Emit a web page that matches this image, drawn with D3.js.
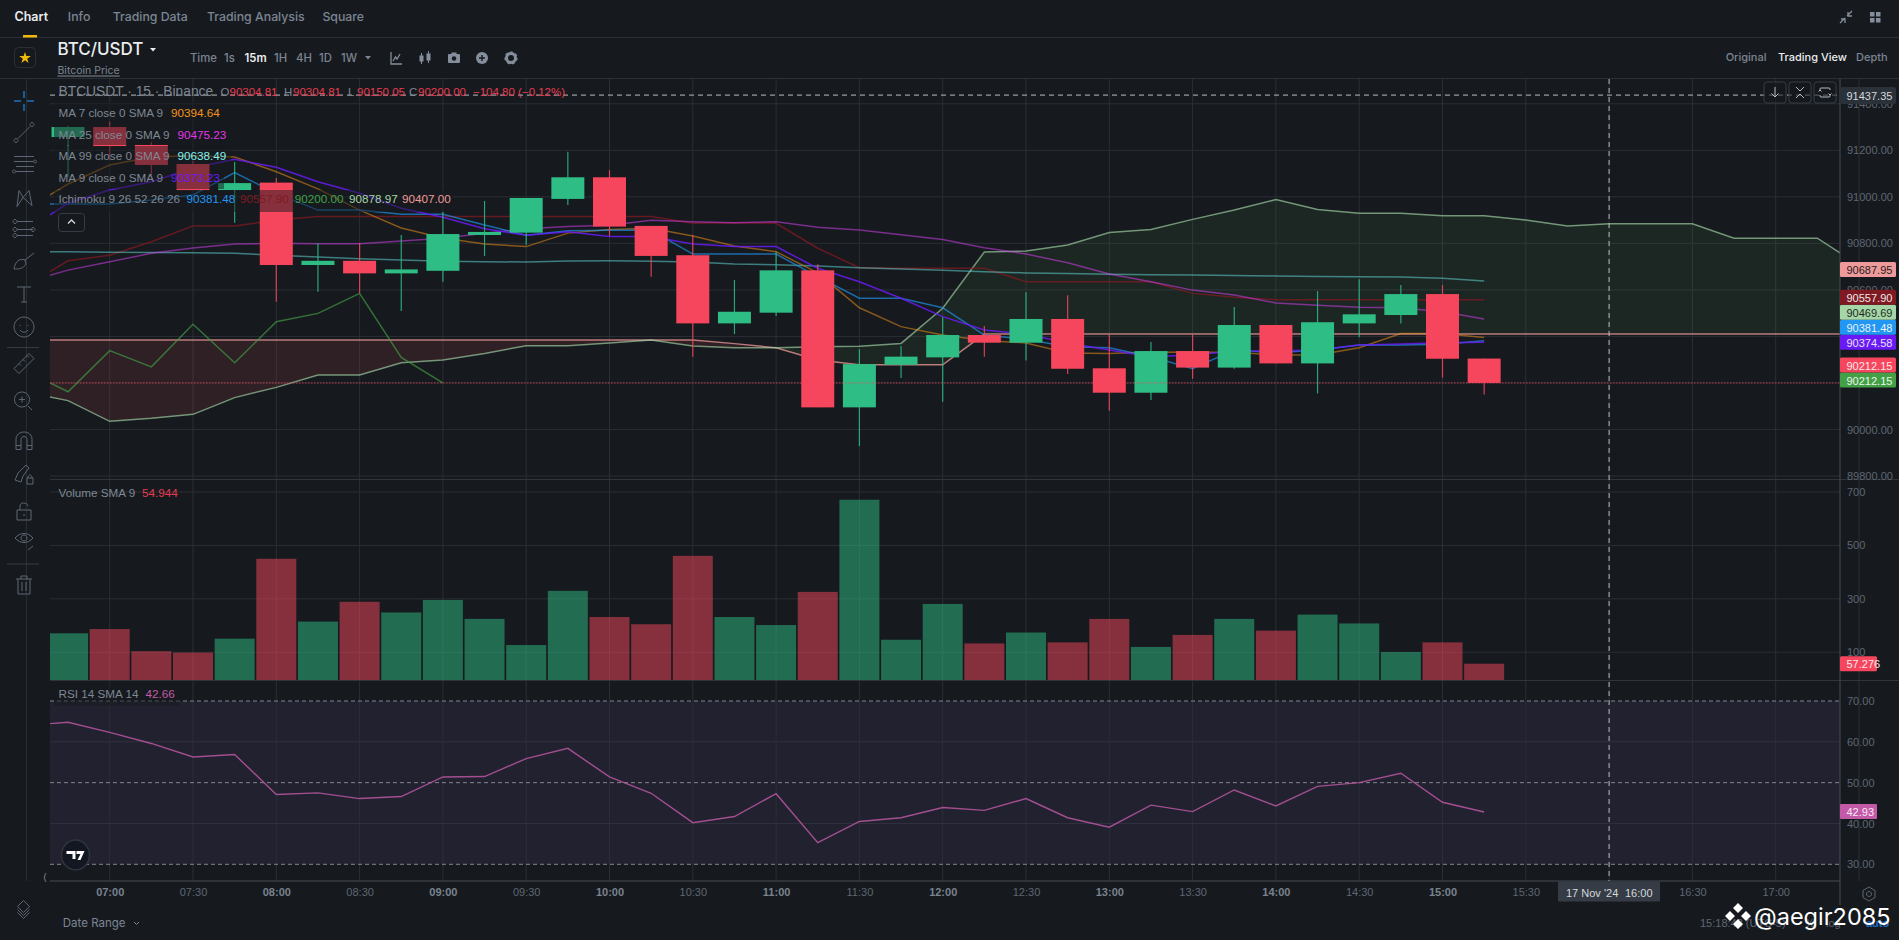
<!DOCTYPE html>
<html>
<head>
<meta charset="utf-8">
<title>BTC/USDT</title>
<script src="https://cdn.jsdelivr.net/npm/d3@7/dist/d3.min.js"></script>
<style>
  html, body { margin: 0; padding: 0; background: #161a1e; overflow: hidden; }
  text { font-family: "Liberation Sans", Arial, sans-serif; }
  .ui text, text.ui { font-family: Inter, Roboto, sans-serif; }
</style>
</head>
<body>
<svg id="chart" width="1899" height="940"></svg>
<script>
// 15 minute slots, 06:30 is just off the left edge
var times = ["06:30","06:45","07:00","07:15","07:30","07:45","08:00","08:15","08:30","08:45","09:00","09:15","09:30","09:45",
  "10:00","10:15","10:30","10:45","11:00","11:15","11:30","11:45","12:00","12:15","12:30","12:45","13:00","13:15","13:30","13:45",
  "14:00","14:15","14:30","14:45","15:00","15:15","15:30","15:45","16:00","16:15","16:30","16:45","17:00","17:15","17:30"];

// candles, 06:45 to 15:15
var opens  = [91257,91300,91223,91141,91029,91061,90707,90725,90671,90682,90836,90846,90991,91084,90875,90749,90456,90502,90684,90095,90278,90310,90406,90373,90475,90263,90158,90337,90266,90449,90284,90456,90492,90582,90304.81];
var highs  = [91305,91326,91236,91155,91150,91081,90800,90802,90836,90936,90982,90995,91194,91115,90875,90836,90643,90764,90710,90345,90359,90482,90445,90590,90577,90406,90376,90410,90526,90449,90595,90646,90621,90621,90304.81];
var lows   = [91085,91158,91094,91029,90889,90549,90592,90587,90509,90635,90746,90793,90965,90832,90657,90313,90410,90488,90095,89929,90221,90119,90313,90296,90238,90081,90127,90218,90261,90284,90155,90396,90455,90223,90150.05];
var closes = [91300,91218,91137,91029,91059,90707,90725,90671,90688,90840,90849,90995,91084,90872,90746,90456,90506,90684,90095,90281,90313,90406,90373,90475,90261,90158,90337,90266,90449,90284,90461,90495,90582,90304,90200];
var volumes = [171,187,104,99,151,450,215,289,249,296,225,127,330,232,205,461,232,202,326,671,147,281,133,174,137,225,120,165,225,181,241,208,101,137,57.276];

// moving averages, 06:30 to 15:15
var ma7  = [90948,91055,91137,91171,91177,91171,91108,91034,90943,90866,90823,90797,90786,90844,90860,90865,90832,90789,90764,90673,90523,90442,90406,90382,90372,90329,90327,90333,90332,90332,90320,90320,90351,90412,90412,90395];
var ma9  = [90857,90973,91029,91065,91124,91161,91127,91065,91015,90951,90912,90863,90835,90850,90829,90829,90797,90786,90786,90693,90635,90564,90485,90428,90410,90372,90342,90313,90320,90337,90337,90342,90363,90367,90373,90375];
var ma25 = [90634,90685,90721,90757,90780,90797,90800,90798,90798,90810,90822,90843,90863,90872,90878,90899,90893,90889,90893,90869,90857,90837,90817,90781,90754,90717,90668,90635,90599,90578,90544,90534,90525,90523,90506,90475];
var ma99 = [90764,90764,90762,90761,90760,90757,90749,90741,90734,90728,90723,90721,90720,90724,90725,90723,90720,90711,90708,90703,90695,90690,90684,90678,90673,90670,90667,90665,90664,90662,90660,90658,90657,90655,90650,90638];

// ichimoku
var conversion = [90969,90969,90969,90986,91008,91104,91015,90943,90943,90925,90925,90879,90835,90854,90856,90856,90754,90754,90754,90657,90564,90564,90523,90406,90388,90356,90351,90313,90261,90342,90330,90342,90363,90363,90366,90381];
var baseLine   = [90617,90725,90749,90807,90875,90875,90900,90915,90915,90915,90915,90915,90915,90915,90915,90915,90886,90889,90886,90779,90695,90693,90693,90693,90635,90635,90635,90635,90585,90568,90558,90558,90558,90558,90558,90558];
var lagging    = [90251,90162,90339,90269,90452,90287,90463,90499,90585,90310,90200];
var spanA = [90161,90124,90035,90048,90065,90137,90181,90234,90234,90287,90299,90327,90360,90360,90372,90385,90359,90351,90351,90356,90358,90370,90521,90763,90767,90793,90847,90860,90903,90943,90988,90946,90929,90929,90919,90919,90900,90875,90884,90884,90884,90822,90822,90822,90707];
var spanB = [90385,90385,90385,90385,90385,90385,90385,90385,90385,90385,90385,90385,90385,90385,90385,90385,90385,90369,90351,90299,90278,90278,90278,90410,90410,90410,90410,90410,90410,90410,90410,90410,90410,90410,90410,90410,90410,90410,90410,90410,90410,90410,90410,90410,90410];

var rsi = [64.0,64.8,62.3,59.6,56.3,56.9,47.1,47.5,46.1,46.6,51.4,51.5,55.9,58.4,51.4,47.4,40.2,41.7,47.3,35.3,40.5,41.4,43.9,43.2,46.1,41.4,39.1,44.5,42.9,48.2,44.3,49.1,50.0,52.3,45.2,42.8];

var priceTicks = [89800,90000,90200,90400,90600,90800,91000,91200,91400];
var volumeTicks = [100,300,500,700];
var rsiTicks = [30,40,50,60,70];
var rsiDashed = [30,50,70];
var priceLabels = [
  [90687.95, "#ef9a9a", "#2a1c1e"],
  [90557.90, "#801922", "#e8e8e8"],
  [90469.69, "#a5d6a7", "#1c2a1e"],
  [90381.48, "#2196f3", "#e8f2fb"],
  [90374.58, "#6a1bf5", "#e8e0fb"],
  [90212.15, "#f6465d", "#fde8ea"],
  [90212.15, "#43a047", "#e8f5e9"]
];

var W = 1899, H = 940;
var plotLeft = 50, plotRight = 1840;
var priceTop = 79, priceBottom = 480, volBottom = 680, rsiBottom = 881;
var upColor = "#2ebd85", downColor = "#f6465d", gridColor = "#2a2e35";
var bg = "#161a1e";

var parseTime = d3.timeParse("%H:%M");
var t = times.map(parseTime);

var x = d3.scaleTime().domain([parseTime("07:00"), parseTime("17:00")]).range([109.7, 1775.7]);
var y = d3.scaleLinear().domain([89800, 91200]).range([476, 150.3]);
var yVol = d3.scaleLinear().domain([0, 700]).range([679, 492]);
var yRsi = d3.scaleLinear().domain([30, 70]).range([864.3, 701]);

var svg = d3.select("#chart");
var defs = svg.append("defs");

function clip(id, x0, y0, x1, y1) {
  defs.append("clipPath").attr("id", id).append("rect")
    .attr("x", x0).attr("y", y0).attr("width", x1 - x0).attr("height", y1 - y0);
}
clip("clipPrice", plotLeft, priceTop, plotRight, priceBottom);
clip("clipVol", plotLeft, priceBottom, plotRight, volBottom);
clip("clipRsi", plotLeft, volBottom, plotRight, rsiBottom);

function label(g, px, py, str, size, fill, weight, anchor) {
  return g.append("text").attr("x", px).attr("y", py).text(str)
    .attr("font-size", size).attr("fill", fill)
    .attr("font-weight", weight || 400)
    .attr("text-anchor", anchor || "start")
    .attr("dominant-baseline", "central");
}

function hline(g, x1, x2, py, color, dash) {
  return g.append("line").attr("x1", x1).attr("x2", x2).attr("y1", py).attr("y2", py)
    .attr("stroke", color).attr("stroke-dasharray", dash || null);
}

// rsi band goes under the grid
svg.append("rect").attr("x", plotLeft).attr("y", yRsi(70)).attr("width", plotRight - plotLeft)
  .attr("height", yRsi(30) - yRsi(70)).attr("fill", "#212130");

// grid
var grid = svg.append("g");
var halfHours = d3.timeMinute.every(30).range(parseTime("06:30"), parseTime("17:31"));
[[priceTop, priceBottom], [priceBottom, volBottom], [volBottom, rsiBottom]].forEach(function (p) {
  grid.selectAll(null).data(halfHours).enter().append("line")
    .attr("x1", function (d) { return x(d); }).attr("x2", function (d) { return x(d); })
    .attr("y1", p[0]).attr("y2", p[1]).attr("stroke", gridColor);
});
grid.selectAll(null).data(priceTicks).enter().append("line")
  .attr("x1", plotLeft).attr("x2", plotRight)
  .attr("y1", function (d) { return y(d); }).attr("y2", function (d) { return y(d); }).attr("stroke", gridColor);
grid.selectAll(null).data(volumeTicks).enter().append("line")
  .attr("x1", plotLeft).attr("x2", plotRight)
  .attr("y1", function (d) { return yVol(d); }).attr("y2", function (d) { return yVol(d); }).attr("stroke", gridColor);
grid.selectAll(null).data(rsiTicks.filter(function (d) { return rsiDashed.indexOf(d) < 0; })).enter().append("line")
  .attr("x1", plotLeft).attr("x2", plotRight)
  .attr("y1", function (d) { return yRsi(d); }).attr("y2", function (d) { return yRsi(d); }).attr("stroke", "#30303f");

// ichimoku cloud, split in two at span B
var cloudData = t.map(function (d, i) { return { t: d, a: spanA[i], b: spanB[i] }; });
var cloud = d3.area().x(function (d) { return x(d.t); })
  .y0(function (d) { return y(d.a); }).y1(function (d) { return y(d.b); });
defs.append("clipPath").attr("id", "aboveB").append("path")
  .attr("d", d3.area().x(function (d) { return x(d.t); }).y0(priceTop).y1(function (d) { return y(d.b); })(cloudData));
defs.append("clipPath").attr("id", "belowB").append("path")
  .attr("d", d3.area().x(function (d) { return x(d.t); }).y0(priceBottom).y1(function (d) { return y(d.b); })(cloudData));

var pricePane = svg.append("g").attr("clip-path", "url(#clipPrice)");
pricePane.append("g").attr("clip-path", "url(#aboveB)").append("path")
  .attr("d", cloud(cloudData)).attr("fill", "#6fcf70").attr("fill-opacity", 0.07);
pricePane.append("g").attr("clip-path", "url(#belowB)").append("path")
  .attr("d", cloud(cloudData)).attr("fill", "#f7525f").attr("fill-opacity", 0.11);

// indicator lines
var series = [
  [spanB, "#ef9a9a", 0.75],
  [spanA, "#a5d6a7", 0.65],
  [lagging, "#43a047", 0.65],
  [baseLine, "#801922", 0.75],
  [ma99, "#66e0e0", 0.5],
  [ma25, "#e040fb", 0.5],
  [ma7, "#f7931a", 0.5],
  [conversion, "#2196f3", 0.65],
  [ma9, "#6a1bf5", 0.85]
];
var lineGen = d3.line().x(function (d) { return x(d[0]); }).y(function (d) { return y(d[1]); });
series.forEach(function (s) {
  pricePane.append("path")
    .attr("d", lineGen(s[0].map(function (v, i) { return [t[i], v]; })))
    .attr("fill", "none").attr("stroke", s[1]).attr("stroke-opacity", s[2]).attr("stroke-width", 1.5);
});

// candles
var candleTimes = t.slice(1, 36);
var candles = candleTimes.map(function (d, i) {
  return { t: d, o: opens[i], h: highs[i], l: lows[i], c: closes[i], v: volumes[i], up: closes[i] >= opens[i] };
});
var candleWidth = 33, volWidth = 40;
pricePane.selectAll(".wick").data(candles).enter().append("line").attr("class", "wick")
  .attr("x1", function (d) { return x(d.t); }).attr("x2", function (d) { return x(d.t); })
  .attr("y1", function (d) { return y(d.h); }).attr("y2", function (d) { return y(d.l); })
  .attr("stroke", function (d) { return d.up ? upColor : downColor; })
  .attr("stroke-width", 1.2).attr("stroke-opacity", 0.85);
pricePane.selectAll(".body").data(candles).enter().append("rect").attr("class", "body")
  .attr("x", function (d) { return x(d.t) - candleWidth / 2; })
  .attr("width", candleWidth)
  .attr("y", function (d) { return y(Math.max(d.o, d.c)); })
  .attr("height", function (d) { return Math.max(1, Math.abs(y(d.o) - y(d.c))); })
  .attr("fill", function (d) { return d.up ? upColor : downColor; });

// last price dotted line
hline(svg, plotLeft, plotRight, y(closes[closes.length - 1]), "#f6465d", "1.5 1.5").attr("stroke-opacity", 0.75);

// volume
svg.append("g").attr("clip-path", "url(#clipVol)").selectAll("rect").data(candles).enter().append("rect")
  .attr("x", function (d) { return x(d.t) - volWidth / 2; })
  .attr("width", volWidth)
  .attr("y", function (d) { return yVol(d.v); })
  .attr("height", function (d) { return volBottom - yVol(d.v); })
  .attr("fill", function (d) { return d.up ? upColor : downColor; })
  .attr("fill-opacity", 0.5);

// rsi
var rsiPane = svg.append("g").attr("clip-path", "url(#clipRsi)");
rsiDashed.forEach(function (d) {
  hline(rsiPane, plotLeft, plotRight, yRsi(d), "#85858f", "4 3");
});
rsiPane.append("path")
  .attr("d", d3.line().x(function (d, i) { return x(t[i]); }).y(function (d) { return yRsi(d); })(rsi))
  .attr("fill", "none").attr("stroke", "#c35aa8").attr("stroke-opacity", 0.8).attr("stroke-width", 1.4);

// panel frames
hline(svg, 0, W, 37.5, "#2b3036");
hline(svg, 0, W, 78.5, "#2b3036");
hline(svg, plotLeft, W, priceBottom - 0.5, "#30353c");
hline(svg, plotLeft, W, volBottom + 0.5, "#30353c");
hline(svg, plotLeft, plotRight, rsiBottom, "#474d57");
svg.append("line").attr("x1", plotRight).attr("x2", plotRight).attr("y1", 79).attr("y2", 905).attr("stroke", "#474d57");

// axes
function styleAxis(g, size) {
  g.select(".domain").remove();
  g.selectAll("line").remove();
  g.selectAll("text").attr("fill", "#5e6673").attr("font-size", size || 11).attr("font-family", null);
}
var axisFmt = d3.format(".2f");
svg.append("g").attr("transform", "translate(1847,0)")
  .call(d3.axisRight(y).tickValues(priceTicks).tickSize(0).tickPadding(0).tickFormat(axisFmt)).call(styleAxis);
svg.append("g").attr("transform", "translate(1847,0)")
  .call(d3.axisRight(yVol).tickValues(volumeTicks).tickSize(0).tickPadding(0)).call(styleAxis);
svg.append("g").attr("transform", "translate(1847,0)")
  .call(d3.axisRight(yRsi).tickValues(rsiTicks).tickSize(0).tickPadding(0).tickFormat(axisFmt)).call(styleAxis);
var timeAxis = svg.append("g").attr("transform", "translate(0,888.5)")
  .call(d3.axisBottom(x).tickValues(halfHours.filter(function (d) { return d >= parseTime("07:00") && d <= parseTime("17:00"); }))
    .tickSize(0).tickPadding(0).tickFormat(d3.timeFormat("%H:%M"))).call(styleAxis);
timeAxis.selectAll("text").attr("font-weight", function (d) {
  return d.getMinutes() === 0 && d.getHours() < 16 ? 700 : 400;
}).attr("fill", function (d) {
  return d.getMinutes() === 0 && d.getHours() < 16 ? "#7a828e" : "#5e6673";
});

// price labels stack upward from the lowest one, 15px apart
var tagX = plotRight, tagW = 56, tagH = 15;
var tagY = null;
var tags = svg.append("g");
priceLabels.slice().reverse().forEach(function (p) {
  var py = y(p[0]);
  if (tagY !== null && py > tagY - tagH) py = tagY - tagH;
  tagY = py;
  tags.append("rect").attr("x", tagX).attr("y", py - tagH / 2).attr("width", tagW).attr("height", tagH).attr("rx", 1.5).attr("fill", p[1]);
  label(tags, 1846.5, py + 0.5, axisFmt(p[0]), 11, p[2]);
});
var lastVol = volumes[volumes.length - 1];
tags.append("rect").attr("x", tagX).attr("y", yVol(lastVol) - 7.5).attr("width", 37).attr("height", 15).attr("rx", 1.5).attr("fill", downColor);
label(tags, 1846.5, yVol(lastVol) + 0.5, lastVol.toFixed(3), 11, "#fde8ea");
var lastRsi = 42.93;
tags.append("rect").attr("x", tagX).attr("y", yRsi(lastRsi) - 7.5).attr("width", 37).attr("height", 15).attr("rx", 1).attr("fill", "#c35aa8");
label(tags, 1846.5, yRsi(lastRsi) + 0.5, lastRsi.toFixed(2), 11, "#f9e8f4");

// crosshair
var crossTime = parseTime("16:00"), crossPrice = 91437.35;
svg.append("line").attr("x1", x(crossTime)).attr("x2", x(crossTime)).attr("y1", priceTop).attr("y2", rsiBottom)
  .attr("stroke", "#b8bcc2").attr("stroke-dasharray", "5 4");
hline(svg, plotLeft, plotRight, y(crossPrice), "#b8bcc2", "5 4");
tags.append("rect").attr("x", tagX).attr("y", y(crossPrice) - 8).attr("width", 56).attr("height", 17).attr("rx", 2).attr("fill", "#2b3139");
label(tags, 1846.5, y(crossPrice) + 0.5, axisFmt(crossPrice), 11, "#d5d8dc");
svg.append("rect").attr("x", 1558).attr("y", 881.5).attr("width", 102).attr("height", 20).attr("fill", "#363c45").attr("rx", 1);
label(svg, 1566, 892.5, "17 Nov '24", 11, "#d5d8dc");
label(svg, 1625, 892.5, "16:00", 11, "#d5d8dc");

// chart buttons over the crosshair line
[1764, 1789, 1814].forEach(function (bx, i) {
  svg.append("rect").attr("x", bx).attr("y", 82).attr("width", 22).attr("height", 21).attr("rx", 3)
    .attr("fill", bg).attr("fill-opacity", 0.55).attr("stroke", "#363c45");
  var d = ["M11 5v10M7.500 11.500 11 15l3.500-3.500",
    "M7 5l4 4 4-4M7 16l4-4 4 4",
    "M6 8V7a1 1 0 0 1 1-1h8a1 1 0 0 1 1 1v1M6 13v1a1 1 0 0 0 1 1h8a1 1 0 0 0 1-1v-1M4.500 9.500 6 8l1.500 1.500M14.500 11.500 16 13l1.500-1.500"][i];
  svg.append("path").attr("transform", "translate(" + bx + ",82)").attr("d", d)
    .attr("fill", "none").attr("stroke", "#b7bdc6");
});

// legend rows sit on a half see through strip
var legend = svg.append("g");
[[54, 102, 170, 21], [54, 124, 177, 21], [54, 146, 177, 21], [54, 167, 170, 22], [54, 190, 400, 22], [54, 684, 126, 22]].forEach(function (r) {
  legend.append("rect").attr("x", r[0]).attr("y", r[1]).attr("width", r[2]).attr("height", r[3]).attr("fill", bg).attr("fill-opacity", 0.5);
});
var legendGray = "#7f8794";
label(legend, 58.5, 91.7, "BTCUSDT · 15 · Binance", 13.8, legendGray);
var red = "#e83a50";
[["O", "90304.81", 220.5], ["H", "90304.81", 284], ["L", "90150.05", 348], ["C", "90200.00", 409]].forEach(function (o) {
  label(legend, o[2], 91.7, o[0], 11.5, legendGray);
  label(legend, o[2] + 9, 91.7, o[1], 11.5, red);
});
label(legend, 473, 91.7, "−104.80 (−0.12%)", 11.5, red);
[["MA 7 close 0 SMA 9", "90394.64", "#f7931a", 171, 112.7],
 ["MA 25 close 0 SMA 9", "90475.23", "#e535ea", 177.500, 134.7],
 ["MA 99 close 0 SMA 9", "90638.49", "#7ff0ee", 177.500, 155.7],
 ["MA 9 close 0 SMA 9", "90373.23", "#6a1bf5", 171, 177.3]].forEach(function (o) {
  label(legend, 58.5, o[4], o[0], 11.7, legendGray);
  label(legend, o[3], o[4], o[1], 11.7, o[2]);
});
label(legend, 58.5, 198.7, "Ichimoku 9 26 52 26 26", 11.7, legendGray);
[["90381.48", "#2196f3", 186.5], ["90557.90", "#801922", 240], ["90200.00", "#43a047", 294.7], ["90878.97", "#a5d6a7", 349], ["90407.00", "#ef9a9a", 402]].forEach(function (o) {
  label(legend, o[2], 198.7, o[0], 11.7, o[1]);
});
legend.append("rect").attr("x", 58.5).attr("y", 213.5).attr("width", 26).attr("height", 18).attr("rx", 3).attr("fill", "none").attr("stroke", "#363c45");
legend.append("path").attr("transform", "translate(71.500,222)").attr("d", "M-3.500 1.500 0-2 3.500 1.500").attr("fill", "none").attr("stroke", "#d5d8dc").attr("stroke-width", 1.3);
label(legend, 58.5, 492.7, "Volume SMA 9", 11.7, legendGray);
label(legend, 142, 492.7, "54.944", 11.7, red);
label(legend, 58.5, 693.7, "RSI 14 SMA 14", 11.7, legendGray);
label(legend, 145.5, 693.7, "42.66", 11.7, "#c35aa8");
label(legend, 43.5, 877, "(", 9, "#848e9c");

// page chrome
var ui = svg.append("g").attr("class", "ui");
label(ui, 14.5, 16.7, "Chart", 12.5, "#eaecef", 600);
[["Info", 67.8], ["Trading Data", 112.7], ["Trading Analysis", 207], ["Square", 322.4]].forEach(function (o) {
  label(ui, o[1], 16.7, o[0], 12.3, "#7c8593", 500);
});
ui.append("rect").attr("x", 23).attr("y", 35).attr("width", 14).attr("height", 2.5).attr("fill", "#f0b90b");
ui.append("rect").attr("x", 14.5).attr("y", 47.5).attr("width", 21).attr("height", 20).attr("rx", 4).attr("fill", "none").attr("stroke", "#2b3139");
ui.append("path").attr("transform", "translate(25,58)").attr("fill", "#f0b90b")
  .attr("d", d3.symbol(d3.symbolStar, 42)());
label(ui, 57.5, 49, "BTC/USDT", 17, "#eaecef", 500);
ui.append("path").attr("d", "M150 48h6l-3 3.500z").attr("fill", "#eaecef");
label(ui, 57.5, 70, "Bitcoin Price", 10.5, "#7c8593").attr("text-decoration", "underline");
[["Time", 190], ["1s", 224], ["1H", 274], ["4H", 296], ["1D", 319], ["1W", 341]].forEach(function (o) {
  label(ui, o[1], 57.5, o[0], 11.3, "#7c8593", 500);
});
label(ui, 244.5, 57.5, "15m", 11.3, "#eaecef", 600);
ui.append("path").attr("d", "M365 56h6l-3 3.500z").attr("fill", "#7c8593");
label(ui, 1725.7, 57, "Original", 11, "#7c8593", 500);
label(ui, 1778, 57, "Trading View", 11, "#eaecef", 500);
label(ui, 1856, 57, "Depth", 11, "#7c8593", 500);
label(ui, 62.8, 923, "Date Range", 11.5, "#7c8593");
ui.append("path").attr("d", "M134 922l2.500 2.500 2.500-2.500").attr("fill", "none").attr("stroke", "#7c8593");

// icons, [x, y, path] stroked in gray
var iconGray = "#5e6673";
var icons = [
  [24, 132.5, "M-6 6 6-6M-8 6a2 2 0 1 0 .01 0M8-10a2 2 0 1 0 .01 0"],
  [24, 164.5, "M-10-8H10M-10-3H9M-8 2H10M-8 7H10M11-4.500a1.500 1.500 0 1 0 .01 0M-10 5.500a1.500 1.500 0 1 0 .01 0"],
  [24, 197.5, "M-7 9-5-7-1 0 5-7 8 8M-7 9-1 0 8 8"],
  [24, 229.5, "M-7-8H9M-7 0H9M-7 6H9M-9-10a2 2 0 1 0 .01 0M-9-2a2 2 0 1 0 .01 0M-9 4a2 2 0 1 0 .01 0M9-2a2 2 0 1 0 .01 0"],
  [24, 260, "M-10 9C-9 1-4-2 1 0L2 4C-1 9-5 9-10 9ZM1 0 10-7"],
  [24, 294, "M-7-7H7M0-7V8M-3 8H3"],
  [24, 327, "M0-10a10 10 0 1 0 .01 0M-4-2v1M4-2v1M-4 3C-2 6 2 6 4 3"],
  [24, 363.5, "M-10 5 5-10 10-5-5 10ZM-5 0l2 2M-1-4l2 2M3-8l2 2"],
  [24, 401, "M-2-9a7.500 7.500 0 1 0 .01 0M4 5 8 9M-5-1.500H1M-2-4.500V1.500"],
  [24, 441.5, "M-8 8V-2C-8-12 8-12 8-2V8H3V-2C3-6-3-6-3-2V8ZM-8 4H-3M3 4H8"],
  [24, 474, "M-9 6-3 8-1 2 5-6 2-9-6-1ZM3 4h6v6H3zM4 4C4 0 8 0 8 4"],
  [24, 511, "M-7-1H7V9H-7ZM-4-1V-5C-4-9 3-9 4-5M0 3v2"],
  [24, 542, "M-9-4C-4-10 4-10 9-4C4 2-4 2-9-4ZM0-7a3 3 0 1 0 .01 0M4 8 9 4"],
  [24, 585, "M-8-6H8M-6-6V9H6V-6M-3-6V-9H3V-6M-2-3V6M2-3V6"],
  [23.5, 907.5, "M0-7 6-1 0 5-6-1ZM-6 2 0 8 6 2M-6 5 0 11 6 5"],
  [1869, 894, "M-6-3.500 0-7 6-3.500V3.500L0 7-6 3.500ZM0-2.500a2.500 2.500 0 1 0 .01 0"]
];
icons.forEach(function (c) {
  svg.append("path").attr("transform", "translate(" + c[0] + "," + c[1] + ")").attr("d", c[2])
    .attr("fill", "none").attr("stroke", iconGray).attr("stroke-width", 1);
});
// blue crosshair tool
svg.append("path").attr("d", "M24 91V98M24 104V111M14 101H21M27 101H34").attr("stroke", "#1c5a96").attr("stroke-width", 2);
[[347.5], [564]].forEach(function (d) { hline(svg, 7, 39, d[0], "#363c45"); });

// toolbar icons in the header
svg.append("path").attr("transform", "translate(396,58)").attr("d", "M-5-6V6H6M-3 3-.5-1 1 1 4-4")
  .attr("fill", "none").attr("stroke", "#848e9c").attr("stroke-width", 1.3);
svg.append("path").attr("transform", "translate(1846,17)").attr("d", "M1-1 6-6M2-5V-1H6M-1 1-6 6M-5 2H-1V6")
  .attr("fill", "none").attr("stroke", "#848e9c").attr("stroke-width", 1.3);
[[425, 58], [454, 58], [482, 58], [511, 58]].forEach(function (c, i) {
  var g = svg.append("g").attr("transform", "translate(" + c[0] + "," + c[1] + ")").attr("fill", "#848e9c");
  if (i === 0) {
    g.append("path").attr("d", "M-3.500-5V6M3.500-7V5").attr("stroke", "#848e9c").attr("stroke-width", 1);
    g.append("rect").attr("x", -5.5).attr("y", -2.5).attr("width", 4).attr("height", 6);
    g.append("rect").attr("x", 1.5).attr("y", -4.5).attr("width", 4).attr("height", 7);
  } else if (i === 1) {
    g.append("rect").attr("x", -6).attr("y", -4).attr("width", 12).attr("height", 9).attr("rx", 1);
    g.append("rect").attr("x", -2.5).attr("y", -5.5).attr("width", 5).attr("height", 2);
    g.append("circle").attr("r", 2.2).attr("cy", 0.5).attr("fill", bg);
  } else if (i === 2) {
    g.append("circle").attr("r", 6);
    g.append("path").attr("d", "M-3 0H3M0-3V3").attr("stroke", bg).attr("stroke-width", 1.4);
  } else {
    g.append("circle").attr("r", 4.5).attr("fill", "none").attr("stroke", "#848e9c").attr("stroke-width", 3);
    g.append("circle").attr("r", 5.6).attr("fill", "none").attr("stroke", "#848e9c").attr("stroke-width", 2).attr("stroke-dasharray", "2.500 2.500");
  }
});
var topIcon = svg.append("g").attr("transform", "translate(1875,17)").attr("fill", "#848e9c");
[[-5, -5], [1, -5], [-5, 1], [1, 1]].forEach(function (c) {
  topIcon.append("rect").attr("x", c[0]).attr("y", c[1]).attr("width", 4.5).attr("height", 4.5);
});

// tradingview badge
var tv = svg.append("g").attr("transform", "translate(75.500,855)");
tv.append("ellipse").attr("rx", 14).attr("ry", 15).attr("fill", "#131722").attr("stroke", "#30343c").attr("stroke-width", 1.5);
tv.append("path").attr("d", "M-9-4H0V4H-3V-1H-9ZM1-4H9L5 5H2L5-1H1Z").attr("fill", "#fff");

// status + watermark
label(svg, 1700, 923, "15:18:43 (UTC-5)", 11, "#5e6673");
label(svg, 1805, 923, "%", 11, "#5e6673");
label(svg, 1826, 923, "log", 11, "#5e6673");
label(svg, 1866, 923, "auto", 11, "#1e6ec8", 700);
var wm = svg.append("g");
wm.append("path").attr("transform", "translate(1738,916)").attr("fill", "#fff")
  .attr("d", "M0-13 5-8 0-3-5-8ZM0 3 5 8 0 13-5 8ZM-8-5-3 0-8 5-13 0ZM8-5 13 0 8 5 3 0Z");
label(wm, 1754, 916, "@aegir2085", 23.5, "#fff", 400).style("font-family", "Inter, Roboto, sans-serif");
</script>
</body>
</html>
